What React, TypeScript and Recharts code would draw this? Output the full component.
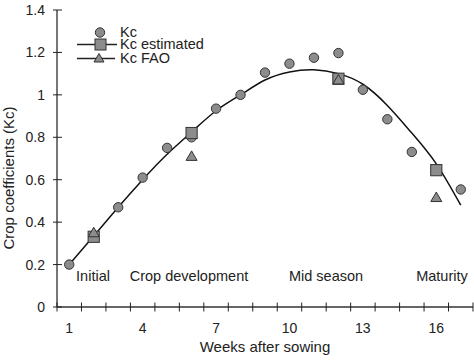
import { ComposedChart, Line, Scatter, XAxis, YAxis, Customized } from 'recharts'

const weeks = [1, 2, 3, 4, 5, 6, 7, 8, 9, 10, 11, 12, 13, 14, 15, 16, 17]
const kcObserved = [0.2, 0.33, 0.47, 0.61, 0.75, 0.8, 0.935, 1.0, 1.105, 1.147, 1.175, 1.197, 1.024, 0.885, 0.731, 0.645, 0.554]
const kcFitted = [0.2, 0.335, 0.47, 0.6, 0.72, 0.825, 0.925, 1.0, 1.07, 1.108, 1.118, 1.1, 1.05, 0.95, 0.82, 0.675, 0.48]
const estWeeks = [2, 6, 12, 16]
const kcEstimated = [0.331, 0.82, 1.076, 0.645]
const faoWeeks = [2, 6, 12, 16]
const kcFao = [0.35, 0.71, 1.07, 0.516]
const yTicks = [0, 0.2, 0.4, 0.6, 0.8, 1, 1.2, 1.4]
const labeledWeeks = [1, 4, 7, 10, 13, 16]
const phases = ['Initial', 'Crop development', 'Mid season', 'Maturity']
const seriesNames = ['Kc', 'Kc estimated', 'Kc FAO']

const toRows = (xs: number[], ys: number[]) => xs.map((w, i) => ({ week: w, kc: ys[i] }))
const observedRows = toRows(weeks, kcObserved)
const fittedRows = toRows(weeks, kcFitted)
const estimatedRows = toRows(estWeeks, kcEstimated)
const faoRows = toRows(faoWeeks, kcFao)

const FONT = '"Liberation Sans", Arial, sans-serif'
const INK = '#222'
const MARKER_FILL = '#8c8c8c'
const MARKER_STROKE = '#333'
const STEP = 416 / 17

const WeekTick = ({ x, y, payload }: any) => {
  const v = payload.value
  const half = STEP / 2
  return (
    <g>
      <line x1={x - half} x2={x - half} y1={y - 4.5} y2={y + 4.5} stroke={INK} />
      {v === weeks[weeks.length - 1] && (
        <line x1={x + half} x2={x + half} y1={y - 4.5} y2={y + 4.5} stroke={INK} />
      )}
      {labeledWeeks.includes(v) && (
        <text x={x} y={y + 26} textAnchor="middle" fontSize={14} fontFamily={FONT} fill={INK}>
          {v}
        </text>
      )}
    </g>
  )
}

const KcTick = ({ x, y, payload }: any) => (
  <g>
    <line x1={x - 4} x2={x + 5} y1={y} y2={y} stroke={INK} />
    <text x={x - 12} y={y + 5} textAnchor="end" fontSize={14} fontFamily={FONT} fill={INK}>
      {String(payload.value)}
    </text>
  </g>
)

const circleShape = (p: any) => (
  <circle cx={p.cx} cy={p.cy} r={4.7} fill={MARKER_FILL} stroke={MARKER_STROKE} />
)
const squareShape = (p: any) => (
  <rect x={p.cx - 5.6} y={p.cy - 5.6} width={11.2} height={11.2} fill={MARKER_FILL} stroke={MARKER_STROKE} />
)
const triangleShape = (p: any) => (
  <polygon
    points={`${p.cx},${p.cy - 5.5} ${p.cx - 5.5},${p.cy + 4} ${p.cx + 5.5},${p.cy + 4}`}
    fill={MARKER_FILL}
    stroke={MARKER_STROKE}
  />
)

// legend, axis titles and growth-stage labels
const Annotations = () => (
  <g fontFamily={FONT} fill={INK}>
    <g fontSize={14.5}>
      <circle cx={100} cy={32.5} r={4.7} fill={MARKER_FILL} stroke={MARKER_STROKE} />
      <text x={120} y={36.7}>{seriesNames[0]}</text>
      <line x1={77} x2={117} y1={44.5} y2={44.5} stroke={INK} strokeWidth={1.5} />
      <rect x={95} y={39} width={11} height={11} fill={MARKER_FILL} stroke={MARKER_STROKE} />
      <text x={120} y={49.3}>{seriesNames[1]}</text>
      <line x1={77} x2={115} y1={58.5} y2={58.5} stroke={INK} strokeWidth={1.5} />
      <polygon points="99,53.5 94,62 104,62" fill={MARKER_FILL} stroke={MARKER_STROKE} />
      <text x={120} y={63.3}>{seriesNames[2]}</text>
    </g>
    <text x={93} y={281} textAnchor="middle" fontSize={14.5}>{phases[0]}</text>
    <text x={189} y={281} textAnchor="middle" fontSize={14.5}>{phases[1]}</text>
    <text x={326} y={281} textAnchor="middle" fontSize={14.5}>{phases[2]}</text>
    <text x={442} y={281} textAnchor="middle" fontSize={14.5}>{phases[3]}</text>
    <text x={265} y={352} textAnchor="middle" fontSize={15}>Weeks after sowing</text>
    <text x={14} y={178} textAnchor="middle" fontSize={15} transform="rotate(-90 14 178)">
      Crop coefficients (Kc)
    </text>
  </g>
)

export default function App() {
  return (
    <div style={{ position: 'absolute', left: 0, top: 0, width: 474, height: 364, background: '#fff' }}>
      <ComposedChart width={474} height={364} margin={{ top: 10, right: 1, left: 0, bottom: 0 }}>
        <XAxis
          dataKey="week"
          type="number"
          domain={[0.5, 17.5]}
          ticks={weeks}
          interval={0}
          tickSize={0}
          tickMargin={0}
          height={57}
          axisLine={{ stroke: '#333', strokeWidth: 1.5 }}
          tickLine={false}
          tick={<WeekTick />}
        />
        <YAxis
          dataKey="kc"
          type="number"
          domain={[0, 1.4]}
          ticks={yTicks}
          interval={0}
          tickSize={0}
          tickMargin={0}
          width={57}
          axisLine={{ stroke: '#777', strokeWidth: 2 }}
          tickLine={false}
          tick={<KcTick />}
        />
        <Line
          data={fittedRows}
          dataKey="kc"
          type="natural"
          stroke="#111"
          strokeWidth={1.5}
          dot={false}
          activeDot={false}
          isAnimationActive={false}
        />
        <Scatter data={observedRows} shape={circleShape} isAnimationActive={false} />
        <Scatter data={estimatedRows} shape={squareShape} isAnimationActive={false} />
        <Scatter data={faoRows} shape={triangleShape} isAnimationActive={false} />
        <Customized component={<Annotations />} />
      </ComposedChart>
    </div>
  )
}
